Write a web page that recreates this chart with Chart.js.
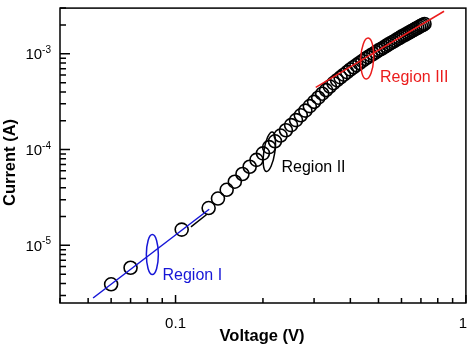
<!DOCTYPE html>
<html>
<head>
<meta charset="utf-8">
<script src="https://cdn.jsdelivr.net/npm/chart.js@4.4.0/dist/chart.umd.min.js"></script>
<style>
  html, body { margin: 0; padding: 0; background: #fff; }
</style>
</head>
<body>
<canvas id="myChart" width="474" height="346"></canvas>
<script>
// Data
const voltage = [0.06, 0.07, 0.105,
  0.13, 0.14, 0.15, 0.16, 0.17, 0.18, 0.19, 0.20, 0.21, 0.22, 0.23, 0.24, 0.25,
  0.26, 0.27, 0.28, 0.29, 0.30, 0.31, 0.32, 0.33, 0.34, 0.35, 0.36, 0.37, 0.38,
  0.39, 0.40, 0.41, 0.42, 0.43, 0.44, 0.45, 0.46, 0.47, 0.48, 0.49, 0.50, 0.51,
  0.52, 0.53, 0.54, 0.55, 0.56, 0.57, 0.58, 0.59, 0.60, 0.61, 0.62, 0.63, 0.64,
  0.65, 0.66, 0.67, 0.68, 0.69, 0.70, 0.71, 0.72];
const current = [3.92e-6, 5.83e-6, 1.46e-5,
  2.45e-5, 3.08e-5, 3.80e-5, 4.62e-5, 5.56e-5, 6.62e-5, 7.81e-5, 9.13e-5, 1.06e-4,
  1.22e-4, 1.40e-4, 1.59e-4, 1.80e-4, 2.03e-4, 2.28e-4, 2.55e-4, 2.84e-4, 3.15e-4,
  3.48e-4, 3.83e-4, 4.18e-4, 4.55e-4, 4.94e-4, 5.30e-4, 5.67e-4, 6.05e-4, 6.44e-4,
  6.86e-4, 7.23e-4, 7.62e-4, 8.01e-4, 8.42e-4, 8.84e-4, 9.22e-4, 9.62e-4, 1.00e-3,
  1.04e-3, 1.085e-3, 1.12e-3, 1.16e-3, 1.205e-3, 1.25e-3, 1.29e-3, 1.33e-3, 1.37e-3,
  1.42e-3, 1.46e-3, 1.51e-3, 1.55e-3, 1.59e-3, 1.64e-3, 1.68e-3, 1.73e-3, 1.77e-3,
  1.82e-3, 1.86e-3, 1.91e-3, 1.96e-3, 2.00e-3, 2.05e-3];

// fitted lines (end points)
const fit1V = [0.052, 0.1306];
const fit1I = [2.82e-6, 2.38e-5];
const fit2V = [0.113, 0.128];
const fit2I = [1.56e-5, 2.1e-5];
const fit3V = [0.304, 0.841];
const fit3I = [4.47e-4, 2.78e-3];

// region markers
const regionNames = ['Region I', 'Region II', 'Region III'];
const regionV = [0.0832, 0.2104, 0.457];
const regionI = [8.0e-6, 9.5e-5, 8.91e-4];

// ticks
const xMajorTicks = [0.1, 1];
const xTickLabels = ['0.1', '1'];
const yMajorTicks = [1e-5, 1e-4, 1e-3];
const yTickExps = ['-5', '-4', '-3'];

const BLUE = 'rgb(22,22,215)';
const RED = 'rgb(235,28,28)';

function pts(xs, ys) {
  return xs.map((x, i) => ({ x: x, y: ys[i] }));
}

const decor = {
  id: 'decor',
  afterDraw(chart) {
    const c = chart.ctx;
    const a = chart.chartArea;
    const xs = chart.scales.x, ys = chart.scales.y;
    c.save();
    c.strokeStyle = '#000';
    c.fillStyle = '#000';
    c.lineWidth = 1.5;
    c.strokeRect(a.left, a.top, a.right - a.left, a.bottom - a.top);

    // minor + major ticks, drawn inside
    c.beginPath();
    for (let e = -2; e <= 0; e++) {
      for (let m = 1; m <= 9; m++) {
        const v = m * Math.pow(10, e);
        if (v < xs.min || v > xs.max) continue;
        const px = xs.getPixelForValue(v);
        const len = m === 1 ? 8 : 5;
        c.moveTo(px, a.bottom);
        c.lineTo(px, a.bottom - len);
      }
    }
    for (let e = -6; e <= -3; e++) {
      for (let m = 1; m <= 9; m++) {
        const v = m * Math.pow(10, e);
        if (v < ys.min || v > ys.max) continue;
        const py = ys.getPixelForValue(v);
        const len = m === 1 ? 10 : 6;
        c.moveTo(a.left, py);
        c.lineTo(a.left + len, py);
      }
    }
    c.stroke();

    // tick labels
    c.font = '15px "Liberation Sans", Arial, sans-serif';
    c.textBaseline = 'alphabetic';
    c.textAlign = 'center';
    xMajorTicks.forEach((v, i) => {
      let px = xs.getPixelForValue(v);
      if (v === 1) px -= 3;
      c.fillText(xTickLabels[i], px, 327.5);
    });
    yMajorTicks.forEach((v, i) => {
      const py = ys.getPixelForValue(v);
      c.font = '10px "Liberation Sans", Arial, sans-serif';
      const sw = c.measureText(yTickExps[i]).width;
      c.textAlign = 'left';
      c.fillText(yTickExps[i], 51 - sw, py - 1);
      c.font = '15px "Liberation Sans", Arial, sans-serif';
      c.textAlign = 'right';
      c.fillText('10', 51 - sw, py + 5.5);
    });

    // axis titles
    c.font = 'bold 16.5px "Liberation Sans", Arial, sans-serif';
    c.textAlign = 'center';
    c.fillText('Voltage (V)', 262, 341);
    c.save();
    c.translate(14.5, 162.5);
    c.rotate(-Math.PI / 2);
    c.fillText('Current (A)', 0, 0);
    c.restore();

    // region ellipses and labels
    const ell = [[6, 20, 0, BLUE], [5.5, 20, 0.15, '#000'], [6.5, 20.5, 0.05, RED]];
    const lab = [[162.5, 279.5, BLUE], [281.5, 172, '#000'], [380, 82, RED]];
    c.lineWidth = 1.5;
    regionNames.forEach((name, i) => {
      const px = xs.getPixelForValue(regionV[i]);
      const py = ys.getPixelForValue(regionI[i]);
      c.strokeStyle = ell[i][3];
      c.beginPath();
      c.ellipse(px, py, ell[i][0], ell[i][1], ell[i][2], 0, Math.PI * 2);
      c.stroke();
      c.font = '16px "Liberation Sans", Arial, sans-serif';
      c.textAlign = 'left';
      c.fillStyle = lab[i][2];
      c.fillText(name, lab[i][0], lab[i][1]);
    });
    c.restore();
  }
};

const ctx = document.getElementById('myChart').getContext('2d');

new Chart(ctx, {
  type: 'scatter',
  data: {
    datasets: [
      { type: 'line', data: pts(fit1V, fit1I), borderColor: BLUE, borderWidth: 1.5, pointRadius: 0, order: 0 },
      { type: 'line', data: pts(fit2V, fit2I), borderColor: '#000', borderWidth: 1.5, pointRadius: 0, order: 0 },
      { type: 'line', data: pts(fit3V, fit3I), borderColor: RED, borderWidth: 1.5, pointRadius: 0, order: 0 },
      {
        data: pts(voltage, current),
        pointStyle: 'circle',
        pointRadius: 6.5,
        borderWidth: 1.6,
        borderColor: '#000',
        backgroundColor: 'rgba(0,0,0,0)',
        order: 1
      }
    ]
  },
  options: {
    responsive: false,
    animation: false,
    layout: { padding: { left: 60, right: 4, top: 1, bottom: 43 } },
    plugins: { legend: { display: false }, tooltip: { enabled: false } },
    scales: {
      x: { type: 'logarithmic', min: 0.04, max: 1, display: false },
      y: { type: 'logarithmic', min: 2.5e-6, max: 3e-3, display: false }
    }
  },
  plugins: [decor]
});
</script>
</body>
</html>
